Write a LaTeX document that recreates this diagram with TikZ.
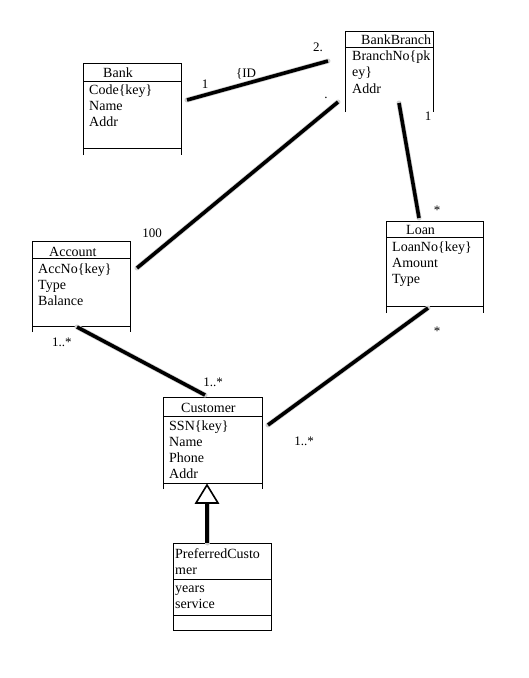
\documentclass[tikz,border=0pt]{standalone}
\usepackage{fontspec}
\setmainfont{Liberation Serif}
\begin{document}
\begin{tikzpicture}[x=1pt,y=-1pt,
  boxline/.style={draw=black,line width=1pt},
  txt/.style={anchor=base west,inner sep=0pt,font=\fontsize{14pt}{16pt}\selectfont},
  assoc/.style={line width=3.6pt,black,line cap=butt},
  shade/.style={line width=5pt,black!18,line cap=round},
  lbl/.style={inner sep=0pt,font=\fontsize{13pt}{15pt}\selectfont}]
\useasboundingbox (0,0) rectangle (528,678);
\fill[white] (0,0) rectangle (528,678);

% ---- Bank
\draw[boxline] (83,155) -- (83,63) -- (181,63) -- (181,155);
\draw[boxline] (83,81) -- (181,81);
\draw[boxline] (83,148) -- (181,148);
\node[txt] (bankN) at (103,77) {Bank};
\node[txt] (bankA1) at (89,94) {Code\{key\}};
\node[txt] (bankA2) at (89,110) {Name};
\node[txt] (bankA3) at (89,126) {Addr};

% ---- BankBranch
\draw[boxline] (345,112) -- (345,31) -- (433,31) -- (433,112);
\draw[boxline] (345,47) -- (433,47);
\node[txt] (brN) at (361,44) {BankBranch};
\node[txt] (brA1) at (352,60) {BranchNo\{pk};
\node[txt] (brA2) at (352,76) {ey\}};
\node[txt] (brA3) at (352,93) {Addr};

% ---- Account
\draw[boxline] (32,332) -- (32,241) -- (130,241) -- (130,332);
\draw[boxline] (32,258) -- (130,258);
\draw[boxline] (32,326) -- (130,326);
\node[txt] (accN) at (49,256) {Account};
\node[txt] (accA1) at (38,273) {AccNo\{key\}};
\node[txt] (accA2) at (38,289) {Type};
\node[txt] (accA3) at (38,305) {Balance};

% ---- Loan
\draw[boxline] (386,313) -- (386,221) -- (483,221) -- (483,313);
\draw[boxline] (386,237) -- (483,237);
\draw[boxline] (386,306) -- (483,306);
\node[txt] (loanN) at (406,234) {Loan};
\node[txt] (loanA1) at (392,251) {LoanNo\{key\}};
\node[txt] (loanA2) at (392,267) {Amount};
\node[txt] (loanA3) at (392,283) {Type};

% ---- Customer
\draw[boxline] (163,489) -- (163,397) -- (262,397) -- (262,489);
\draw[boxline] (163,416) -- (262,416);
\draw[boxline] (163,483) -- (262,483);
\node[txt] (cusN) at (181,412) {Customer};
\node[txt] (cusA1) at (169,430) {SSN\{key\}};
\node[txt] (cusA2) at (169,446) {Name};
\node[txt] (cusA3) at (169,462) {Phone};
\node[txt] (cusA4) at (169,478) {Addr};

% ---- PreferredCustomer
\draw[boxline] (173,543) rectangle (271,630);
\draw[boxline] (173,579) -- (271,579);
\draw[boxline] (173,615) -- (271,615);
\node[txt] (prN1) at (175,558) {PreferredCusto};
\node[txt] (prN2) at (175,574) {mer};
\node[txt] (prA1) at (175,592) {years};
\node[txt] (prA2) at (175,608) {service};

% ---- connector end points
\coordinate (bk) at (187,100);
\coordinate (brL) at (328,61);
\coordinate (brA) at (338,102);
\coordinate (acT) at (137,268);
\coordinate (brD) at (399,103);
\coordinate (lnT) at (419,218);
\coordinate (acB) at (77,327);
\coordinate (cuT) at (205,395);
\coordinate (lnB) at (428,308);
\coordinate (cuR) at (268,425);
\coordinate (triTop) at (207,485);
\coordinate (triL) at (196,503);
\coordinate (triR) at (218,503);
\coordinate (triB) at (207,503);
\coordinate (prT) at (207,543);

% shadows
\begin{scope}[shift={(1.5,2)}]
\draw[shade] (bk) -- (brL);
\draw[shade] (brA) -- (acT);
\draw[shade] (brD) -- (lnT);
\draw[shade] (acB) -- (cuT);
\draw[shade] (lnB) -- (cuR);
\draw[shade] (triB) -- (prT);
\end{scope}

% associations
\draw[assoc] (bk) -- (brL);
\draw[assoc] (brA) -- (acT);
\draw[assoc] (brD) -- (lnT);
\draw[assoc] (acB) -- (cuT);
\draw[assoc] (lnB) -- (cuR);

% generalization
\draw[line width=3.6pt] (triB) -- (prT);
\draw[line width=1.6pt,fill=white,line join=miter] (triTop) -- (triR) -- (triL) -- cycle;

% ---- labels
\node[lbl] (l1) at (205,84) {1};
\node[lbl] (l2) at (246,74) {\{ID};
\node[lbl] (l3) at (318,47) {2.};
\node[lbl] (l4) at (326,98) {.};
\node[lbl] (l5) at (152,233) {100};
\node[lbl] (l6) at (428,116) {1};
\node[lbl] (l7) at (437,210) {*};
\node[lbl] (l8) at (62,342) {1..*};
\node[lbl] (l9) at (213,382) {1..*};
\node[lbl] (l10) at (437,331) {*};
\node[lbl] (l11) at (304,441) {1..*};
\end{tikzpicture}
\end{document}
